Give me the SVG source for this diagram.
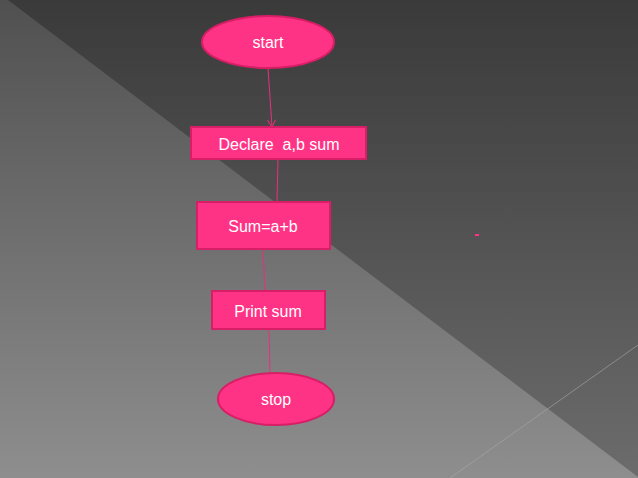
<svg xmlns="http://www.w3.org/2000/svg" width="638" height="478" viewBox="0 0 638 478">
<defs>
<linearGradient id="bg" x1="0" y1="0" x2="0" y2="1"><stop offset="0" stop-color="#3a3a3a"/><stop offset="1" stop-color="#6c6c6c"/></linearGradient>
<linearGradient id="bg2" x1="0" y1="0" x2="0" y2="1"><stop offset="0" stop-color="#505050"/><stop offset="1" stop-color="#8e8e8e"/></linearGradient>
<marker id="ar" markerWidth="10" markerHeight="10" refX="8" refY="5" orient="auto" markerUnits="userSpaceOnUse"><path d="M1,1 L8,5 L1,9" fill="none" stroke="#e8307a" stroke-width="1"/></marker>
<style>
.n{fill:#ff3385;stroke:#d81e66;stroke-width:2}
.t{font-family:"Liberation Sans",Arial,sans-serif;font-size:16px;fill:#fff;text-anchor:middle}
.c{stroke:#e8307a;stroke-width:1;fill:none}
</style>
</defs>
<rect width="638" height="478" fill="url(#bg)"/>
<polygon points="0,0 8,0 638,477 638,478 0,478" fill="url(#bg2)"/>
<line x1="450" y1="478" x2="638" y2="345" stroke="#aaa" stroke-width="1" opacity="0.6"/>
<rect x="475" y="234" width="4" height="2" fill="#ff3385"/>
<g id="connectors">
<line class="c" x1="268" y1="68" x2="272" y2="127" marker-end="url(#ar)"/>
<line class="c" x1="278" y1="160" x2="277" y2="202"/>
<line class="c" x1="263" y1="249" x2="265" y2="291"/>
<line class="c" x1="269" y1="329" x2="270" y2="372"/>
</g>
<g id="start"><ellipse class="n" cx="268" cy="42" rx="66" ry="26"/><text class="t" x="268" y="48">start</text></g>
<g id="declare"><rect class="n" x="191" y="127" width="175" height="32"/><text class="t" x="279" y="150" xml:space="preserve">Declare  a,b sum</text></g>
<g id="sum"><rect class="n" x="197" y="202" width="133" height="47"/><text class="t" x="263" y="232">Sum=a+b</text></g>
<g id="print"><rect class="n" x="212" y="291" width="113" height="38"/><text class="t" x="268" y="317">Print sum</text></g>
<g id="stop"><ellipse class="n" cx="276" cy="399" rx="58" ry="26"/><text class="t" x="276" y="405">stop</text></g>
</svg>
